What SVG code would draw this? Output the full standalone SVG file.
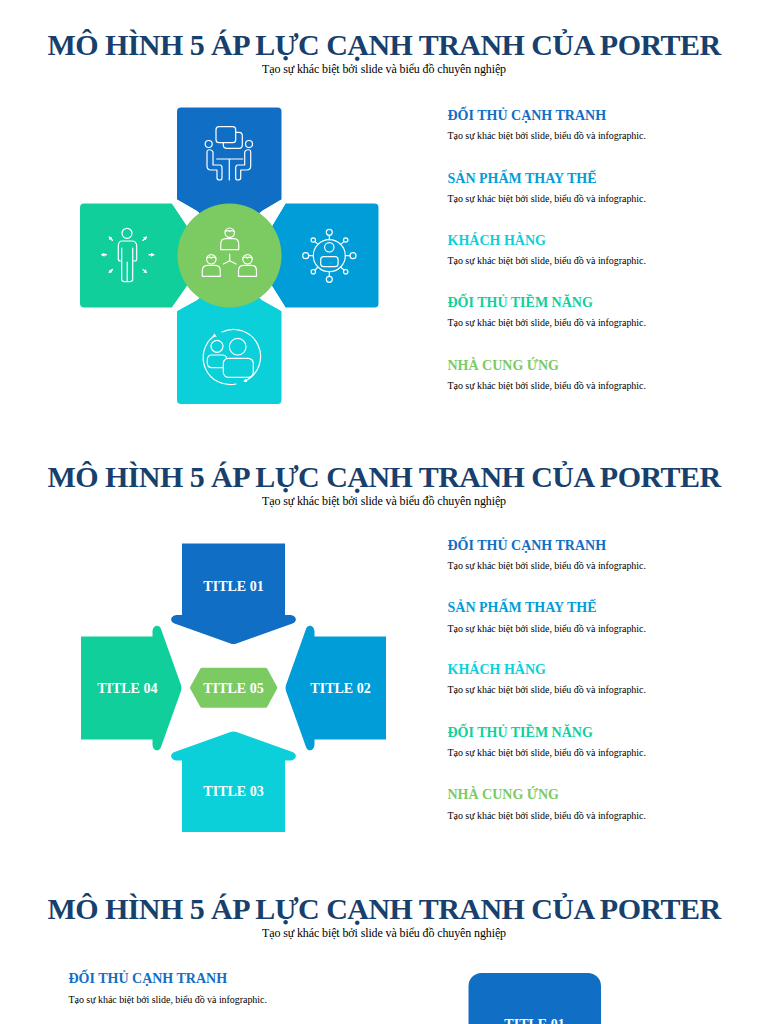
<svg xmlns="http://www.w3.org/2000/svg" xmlns:xlink="http://www.w3.org/1999/xlink" width="768" height="1024" viewBox="0 0 768 1024">
<style>
text{font-family:"Liberation Serif","Times New Roman",serif}
.t{font-size:30px;font-weight:700;fill:#17406d;text-anchor:middle;letter-spacing:-.55px}
.s{font-size:12px;fill:#000;text-anchor:middle;letter-spacing:-.12px}
.h{font-size:14px;font-weight:700}
.d{font-size:10px;fill:#000;letter-spacing:-.05px}
.l{font-size:14px;font-weight:700;fill:#fff;text-anchor:middle}
.c1{fill:#106ec5}.c2{fill:#009dd9}.c3{fill:#0bd0d9}.c4{fill:#10cf9b}.c5{fill:#7cca62}
.i{fill:none;stroke:#fff;stroke-width:1.2;stroke-linecap:round;stroke-linejoin:round}
</style>
<defs>
<marker id="tip" markerUnits="userSpaceOnUse" markerWidth="4" markerHeight="4" refX="2" refY="2" orient="auto"><path d="M0,0L4,2L0,4Z" fill="#fff"/></marker>
<path id="arrow" d="M-51.5,-101H51.5V-29.5H56C63,-29.5 64.5,-23 59,-21L3,-1Q0,0 -3,-1L-59,-21C-64.5,-23 -63,-29.5 -56,-29.5H-51.5Z"/>
<g id="person"><circle cx="0" cy="0" r="4.7"/><path d="M-4.6,-1.4Q-1,-3 0,-1.2Q1.5,-3 4.6,-1.2"/><path d="M-9,17V11.500Q-9,6 -4,6H4Q9,6 9,11.500V17Z"/></g>
<g id="side"><path d="M208,150Q212,149 213,152V165H220Q222,165 222,168V178Q222,180 220,180Q217,180 217,178V170H211Q207,170 207,166V152Q207,150 208,150Z"/></g>
</defs>

<g id="header-1"><text class="t" x="384" y="55">MÔ HÌNH 5 ÁP LỰC CẠNH TRANH CỦA PORTER</text><text class="s" x="384" y="73">Tạo sự khác biệt bởi slide và biểu đồ chuyên nghiệp</text></g>

<g id="puzzle-top">
<path class="c1" d="M181,107.500H277.500Q281.500,107.500 281.500,111.500V199.500L262,211L229,240L197,211L177,199.500V111.500Q177,107.500 181,107.500Z"/>
<g class="i"><rect x="216" y="126.700" width="19.700" height="16" rx="3"/><path d="M235.700,132.300H239Q242.300,132.300 242.300,135.500V145Q242.300,148.300 239,148.300H227Q223.300,148.300 223.300,145V142.700"/><circle cx="208.700" cy="144" r="3.500"/><circle cx="249" cy="144" r="3.500"/><use xlink:href="#side" href="#side"/><use xlink:href="#side" href="#side" transform="translate(457.700 0) scale(-1 1)"/><path d="M216.700,159H242.700M229.300,159V180"/></g>
</g>
<g id="puzzle-right">
<path class="c2" d="M285.500,203.500H374.500Q378.500,203.500 378.500,207.500V303.500Q378.500,307.500 374.500,307.500H285.500L272,286L250,255L272,226Z"/>
<g class="i"><circle cx="329.300" cy="255.700" r="16"/><circle cx="329.300" cy="247.300" r="4.700"/><rect x="320.700" y="256.700" width="17.400" height="10" rx="3"/><circle cx="329.300" cy="232.300" r="3"/><circle cx="329.300" cy="279.300" r="3"/><circle cx="305.700" cy="255.700" r="3"/><circle cx="353" cy="255.700" r="3"/><circle cx="313.300" cy="240" r="2.200"/><circle cx="345.700" cy="240" r="2.200"/><circle cx="313.300" cy="271.700" r="2.200"/><circle cx="345.700" cy="271.700" r="2.200"/><path d="M329.300,235.300V239.700M329.300,271.700V276.300M308.700,255.700H313.300M345.300,255.700H350M315,241.600L318,244.400M344,241.600L340.600,244.400M315,270L318,267M344,270L340.600,267"/></g>
</g>
<g id="puzzle-bottom">
<path class="c3" d="M177,311L197,300L229,270L262,300L281.500,311V400Q281.500,404 277.500,404H181Q177,404 177,400Z"/>
<g class="i"><path d="M214,336A27,27 0 0 0 236,384" marker-start="url(#tip)"/><path d="M222,332A27,27 0 0 1 245,381" marker-end="url(#tip)"/><circle cx="217" cy="346.300" r="6"/><circle cx="237.700" cy="346.700" r="8.300"/><path d="M223.300,367.700H212Q207.300,367.700 207.300,363V360Q207.300,355 212,355H222Q226,355 226.700,358.300"/><rect x="223.300" y="358.300" width="30" height="19" rx="5"/></g>
</g>
<g id="puzzle-left">
<path class="c4" d="M84,203.500H172L187,226L209,255L187,286L172,307.500H84Q80,307.500 80,303.500V207.500Q80,203.500 84,203.500Z"/>
<g class="i"><circle cx="127" cy="233.300" r="5"/><path d="M122.500,241H131.500Q136.700,241 136.700,246V259Q136.700,261 134.700,261H132.700V279Q132.700,281.700 130,281.700H124.500Q121.700,281.700 121.700,279V261H120.300Q118.300,261 118.300,259V246Q118.300,241 122.500,241ZM127.200,262V281.700M121.700,248V261M132.700,248V261"/></g>
<g stroke="#fff" stroke-width="1.200"><path d="M106.700,254.700H102.500M148.700,254.700H153M112.700,240.700L109.800,237.600M142.700,240.700L145.800,237.600M112.700,269.300L109.800,272M142.700,269.300L145.800,272" marker-end="url(#tip)"/><path d="M106.700,254.700H102.500" marker-end="url(#tip)"/><path d="M148.700,254.700H153" marker-end="url(#tip)"/><path d="M112.700,240.700L109.800,237.600" marker-end="url(#tip)"/><path d="M142.700,240.700L145.800,237.600" marker-end="url(#tip)"/><path d="M112.700,269.300L109.800,272" marker-end="url(#tip)"/></g>
</g>
<g id="puzzle-center">
<path d="M172,203.500L187,226L209,255L187,286L172,307.500L177,311L197,300L229,270L262,300L281.500,311L285.500,307.500L272,286L250,255L272,226L285.500,203.500L281.500,199.500L262,211L229,240L197,211L177,199.500Z" fill="#fff"/>
<circle class="c5" cx="229.500" cy="255.500" r="52"/>
<g class="i"><use xlink:href="#person" href="#person" transform="translate(229.700 232.700)"/><use xlink:href="#person" href="#person" transform="translate(211.300 259.300)"/><use xlink:href="#person" href="#person" transform="translate(247.500 259.300)"/><path d="M229.700,254V260.700M229.700,260.700L223.500,264M229.700,260.700L236,264"/></g>
</g>

<g id="list-1">
<text class="h c1" x="447.500" y="120">ĐỐI THỦ CẠNH TRANH</text><text class="d" x="447.500" y="139">Tạo sự khác biệt bởi slide, biểu đồ và infographic.</text>
<text class="h c2" x="447.500" y="182.500">SẢN PHẨM THAY THẾ</text><text class="d" x="447.500" y="202">Tạo sự khác biệt bởi slide, biểu đồ và infographic.</text>
<text class="h c3" x="447.500" y="245">KHÁCH HÀNG</text><text class="d" x="447.500" y="264">Tạo sự khác biệt bởi slide, biểu đồ và infographic.</text>
<text class="h c4" x="447.500" y="307">ĐỐI THỦ TIỀM NĂNG</text><text class="d" x="447.500" y="326">Tạo sự khác biệt bởi slide, biểu đồ và infographic.</text>
<text class="h c5" x="447.500" y="369.500">NHÀ CUNG ỨNG</text><text class="d" x="447.500" y="389">Tạo sự khác biệt bởi slide, biểu đồ và infographic.</text>
</g>

<g id="header-2"><text class="t" x="384" y="487">MÔ HÌNH 5 ÁP LỰC CẠNH TRANH CỦA PORTER</text><text class="s" x="384" y="505">Tạo sự khác biệt bởi slide và biểu đồ chuyên nghiệp</text></g>

<g id="arrow-01"><use xlink:href="#arrow" href="#arrow" class="c1" transform="translate(233.500 644.500)"/><text class="l" x="233.500" y="591">TITLE 01</text></g>
<g id="arrow-02"><use xlink:href="#arrow" href="#arrow" class="c2" transform="translate(285 688) rotate(90)"/><text class="l" x="340.500" y="693">TITLE 02</text></g>
<g id="arrow-03"><use xlink:href="#arrow" href="#arrow" class="c3" transform="translate(233.500 731) rotate(180)"/><text class="l" x="233.500" y="796">TITLE 03</text></g>
<g id="arrow-04"><use xlink:href="#arrow" href="#arrow" class="c4" transform="translate(182 688) rotate(-90)"/><text class="l" x="127.300" y="693">TITLE 04</text></g>
<g id="arrow-05"><path class="c5" stroke="#7cca62" stroke-width="4" stroke-linejoin="round" d="M202,669.700H265.500L275.300,687.700L265.500,705.700H202L192,687.700Z"/><text class="l" x="233.500" y="693">TITLE 05</text></g>

<g id="list-2">
<text class="h c1" x="447.500" y="549.500">ĐỐI THỦ CẠNH TRANH</text><text class="d" x="447.500" y="569">Tạo sự khác biệt bởi slide, biểu đồ và infographic.</text>
<text class="h c2" x="447.500" y="612">SẢN PHẨM THAY THẾ</text><text class="d" x="447.500" y="632">Tạo sự khác biệt bởi slide, biểu đồ và infographic.</text>
<text class="h c3" x="447.500" y="674">KHÁCH HÀNG</text><text class="d" x="447.500" y="693">Tạo sự khác biệt bởi slide, biểu đồ và infographic.</text>
<text class="h c4" x="447.500" y="736.500">ĐỐI THỦ TIỀM NĂNG</text><text class="d" x="447.500" y="756">Tạo sự khác biệt bởi slide, biểu đồ và infographic.</text>
<text class="h c5" x="447.500" y="799">NHÀ CUNG ỨNG</text><text class="d" x="447.500" y="819">Tạo sự khác biệt bởi slide, biểu đồ và infographic.</text>
</g>

<g id="header-3"><text class="t" x="384" y="919">MÔ HÌNH 5 ÁP LỰC CẠNH TRANH CỦA PORTER</text><text class="s" x="384" y="937">Tạo sự khác biệt bởi slide và biểu đồ chuyên nghiệp</text></g>
<g id="list-3"><text class="h c1" x="68.500" y="983">ĐỐI THỦ CẠNH TRANH</text><text class="d" x="68.500" y="1003">Tạo sự khác biệt bởi slide, biểu đồ và infographic.</text></g>
<g id="card-01"><rect class="c1" x="468.500" y="973" width="132.500" height="90" rx="13"/><text class="l" x="534.500" y="1029">TITLE 01</text></g>
</svg>
